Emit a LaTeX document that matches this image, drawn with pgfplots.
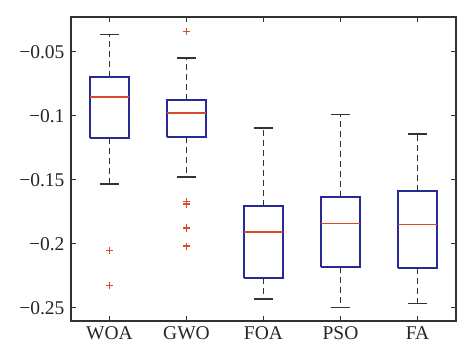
\documentclass[border=0pt]{standalone}
\usepackage{fontspec}
\setmainfont{Liberation Serif}
\newfontfamily\tnr{Liberation Serif}
\usepackage{pgfplots}
\pgfplotsset{compat=1.18}
\definecolor{boxcol}{RGB}{40,40,150}
\definecolor{medcol}{RGB}{215,75,40}
\definecolor{axcol}{RGB}{50,50,50}
\begin{document}
\begin{tikzpicture}
\begin{axis}[
  scale only axis, width=385pt, height=304pt,
  xmin=0.5, xmax=5.5, ymin=-0.2604, ymax=-0.0229,
  xtick={1,2,3,4,5}, xticklabels={WOA,GWO,FOA,PSO,FA},
  ytick={-0.25,-0.2,-0.15,-0.1,-0.05},
  yticklabels={−0.25,−0.2,−0.15,−0.1,−0.05},
  tick align=inside, xtick pos=both, ytick pos=both,
  major tick length=5pt,
  tick style={axcol, line width=1.2pt},
  axis line style={axcol, line width=1.4pt},
  tick label style={font=\tnr\fontsize{19.5}{22}\selectfont, text=black!85},
  xticklabel style={yshift=-2pt},
  yticklabel style={xshift=-3pt},
  unbounded coords=jump,
]
% boxes (lower quartile to upper quartile)
\addplot[boxcol, line width=1.6pt] table {
x y
0.75 -0.1172
1.25 -0.1172
1.25 -0.0698
0.75 -0.0698
0.75 -0.1172
1 nan
1.75 -0.1166
2.25 -0.1166
2.25 -0.0877
1.75 -0.0877
1.75 -0.1166
2 nan
2.75 -0.2270
3.25 -0.2270
3.25 -0.1705
2.75 -0.1705
2.75 -0.2270
3 nan
3.75 -0.2180
4.25 -0.2180
4.25 -0.1635
3.75 -0.1635
3.75 -0.2180
4 nan
4.75 -0.2190
5.25 -0.2190
5.25 -0.1588
4.75 -0.1588
4.75 -0.2190
};
% medians
\addplot[medcol, line width=1.6pt] table {
x y
0.75 -0.0852
1.25 -0.0852
1 nan
1.75 -0.0979
2.25 -0.0979
2 nan
2.75 -0.1909
3.25 -0.1909
3 nan
3.75 -0.1841
4.25 -0.1841
4 nan
4.75 -0.1849
5.25 -0.1849
};
% whiskers (dashed)
\addplot[black!80, line width=1.6pt, dash pattern=on 6pt off 4pt] table {
x y
1 -0.0698
1 -0.0367
1 nan
1 -0.1172
1 -0.1536
1 nan
2 -0.0877
2 -0.0549
2 nan
2 -0.1166
2 -0.1481
2 nan
3 -0.1705
3 -0.1096
3 nan
3 -0.2270
3 -0.2434
3 nan
4 -0.1635
4 -0.0992
4 nan
4 -0.2180
4 -0.2497
4 nan
5 -0.1588
5 -0.1145
5 nan
5 -0.2190
5 -0.2466
};
% whisker caps
\addplot[black!80, line width=1.6pt] table {
x y
0.875 -0.0367
1.125 -0.0367
1 nan
0.875 -0.1536
1.125 -0.1536
1 nan
1.875 -0.0549
2.125 -0.0549
2 nan
1.875 -0.1481
2.125 -0.1481
2 nan
2.875 -0.1096
3.125 -0.1096
3 nan
2.875 -0.2434
3.125 -0.2434
3 nan
3.875 -0.0992
4.125 -0.0992
4 nan
3.875 -0.2497
4.125 -0.2497
4 nan
4.875 -0.1145
5.125 -0.1145
5 nan
4.875 -0.2466
5.125 -0.2466
};
% outliers
\addplot[only marks, mark=+, mark size=3.6pt, medcol, mark options={line width=1.5pt}] table {
x y
1 -0.2055
1 -0.2325
2 -0.0341
2 -0.1669
2 -0.1690
2 -0.1877
2 -0.2020
};
\coordinate (ll) at (rel axis cs:0,0);
\coordinate (ur) at (rel axis cs:1,1);
\end{axis}
\pgfresetboundingbox
\path[use as bounding box] ([xshift=-71pt,yshift=-40pt]ll) rectangle ([xshift=18pt,yshift=17pt]ur);
\end{tikzpicture}
\end{document}
